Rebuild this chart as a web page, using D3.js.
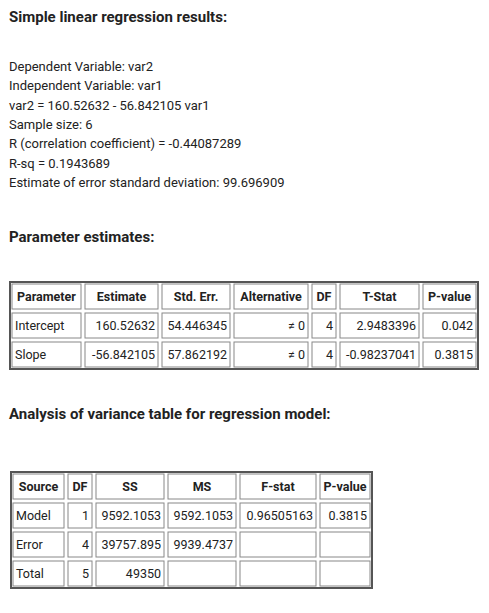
<!DOCTYPE html>
<html><head><meta charset="utf-8">
<script src="https://cdn.jsdelivr.net/npm/d3@7"></script>
<style>body{margin:0;background:#fff}text{font-family:Roboto,"Noto Sans",sans-serif;fill:#222}</style>
</head><body><div id="c"></div>
<script>
const summaryLines = [
  "Dependent Variable: var2",
  "Independent Variable: var1",
  "var2 = 160.52632 - 56.842105 var1",
  "Sample size: 6",
  "R (correlation coefficient) = -0.44087289",
  "R-sq = 0.1943689",
  "Estimate of error standard deviation: 99.696909"
];
const paramHeader = ["Parameter","Estimate","Std. Err.","Alternative","DF","T-Stat","P-value"];
const paramRows = [
  ["Intercept","160.52632","54.446345","\u2260 0","4","2.9483396","0.042"],
  ["Slope","-56.842105","57.862192","\u2260 0","4","-0.98237041","0.3815"]
];
const anovaHeader = ["Source","DF","SS","MS","F-stat","P-value"];
const anovaRows = [
  ["Model","1","9592.1053","9592.1053","0.96505163","0.3815"],
  ["Error","4","39757.895","9939.4737","",""],
  ["Total","5","49350","","",""]
];

const svg = d3.select("#c").append("svg").attr("width",489).attr("height",613);

function heading(t,y){
  svg.append("text").attr("x",9).attr("y",y).attr("font-size",15).attr("font-weight","bold").text(t);
}
heading("Simple linear regression results:",22);
svg.selectAll("text.line").data(summaryLines).enter().append("text")
  .attr("class","line").attr("x",9).attr("y",(d,i)=>71+i*19.3).attr("font-size",13).text(d=>d);
heading("Parameter estimates:",242);
heading("Analysis of variance table for regression model:",419);

function table(header,rows,xs,y0,rowH,leftAlignFirst){
  const g = svg.append("g");
  const nR = rows.length+1;
  const y = d3.scaleLinear().domain([0,nR]).range([y0,y0+nR*rowH]);
  // outer border
  g.append("rect").attr("x",xs[0]).attr("y",y(0)).attr("width",xs[xs.length-1]-xs[0]).attr("height",y(nR)-y(0))
    .attr("fill","none").attr("stroke","#555").attr("stroke-width",2);
  for(let r=0;r<nR;r++){
    for(let c=0;c<xs.length-1;c++){
      g.append("rect").attr("x",xs[c]+2).attr("y",y(r)+2).attr("width",xs[c+1]-xs[c]-4).attr("height",rowH-4)
        .attr("fill","none").attr("stroke","#888").attr("stroke-width",1);
    }
  }
  header.forEach((h,c)=>{
    g.append("text").attr("x",(xs[c]+xs[c+1])/2).attr("y",y(0)+rowH/2+4.5).attr("text-anchor","middle")
      .attr("font-size",12.5).attr("font-weight","bold").text(h);
  });
  rows.forEach((row,r)=>{
    row.forEach((v,c)=>{
      const left = c===0;
      g.append("text").attr("x",left?xs[c]+5:xs[c+1]-5).attr("y",y(r+1)+rowH/2+4.5)
        .attr("text-anchor",left?"start":"end").attr("font-size",12.5).text(v);
    });
  });
}
table(paramHeader,paramRows,[10,83,160,232,310,338,421,478],282,29);
table(anovaHeader,anovaRows,[11,66,94,166,238,318,372],472,29);
</script></body></html>
